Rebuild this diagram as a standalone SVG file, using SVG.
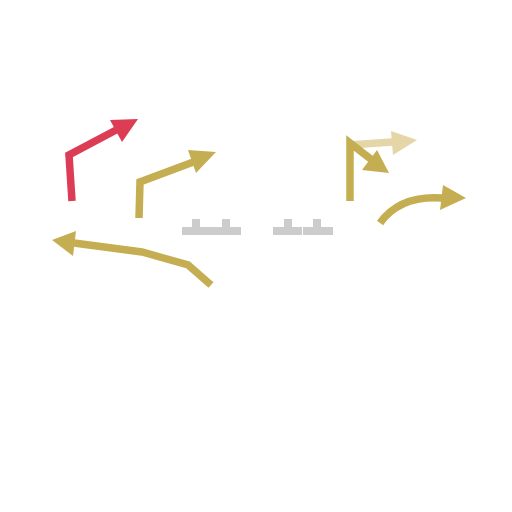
<svg xmlns="http://www.w3.org/2000/svg" width="512" height="512" viewBox="0 0 512 512">
<style>
.ln{fill:none;stroke-width:7.5;stroke-linejoin:miter}
.red{stroke:#dc3d55}
.redf{fill:#dc3d55}
.gold{stroke:#c5ae52}
.goldf{fill:#c5ae52}
.lt{stroke:#e4d6a6}
.ltf{fill:#e4d6a6}
.gr{fill:#cccccc}
</style>
<g id="blocks">
<g id="block1"><rect class="gr" x="182" y="227" width="29" height="8"/><rect class="gr" x="192" y="219" width="8" height="8"/></g>
<g id="block2"><rect class="gr" x="211" y="227" width="30" height="8"/><rect class="gr" x="222" y="219" width="8" height="8"/></g>
<g id="block3"><rect class="gr" x="273" y="227" width="29" height="8"/><rect class="gr" x="284" y="219" width="8" height="8"/></g>
<g id="block4"><rect class="gr" x="303" y="227" width="30" height="8"/><rect class="gr" x="313" y="219" width="8" height="8"/></g>
</g>
<g id="connectors">
<polyline class="ln red" points="72,201 69,155 118,129"/>
<polygon class="redf" points="138,119 110,120 122,142"/>
<polyline class="ln gold" points="139,218 140,182 196,161"/>
<polygon class="goldf" points="216,152 188,150 196,173"/>
<polyline class="ln gold" points="211,285 188,265 142,252 74,243"/>
<polygon class="goldf" points="52,240 76,231 73,256"/>
<polyline class="ln lt" points="349,145 393,142"/>
<polygon class="ltf" points="417,140 391,131 393,155"/>
<polyline class="ln gold" points="350,201 350,143 372,160"/>
<polygon class="goldf" points="389,173 362,170 377,150"/>
<path class="ln gold" d="M380,223 Q400,195 442,198"/>
<polygon class="goldf" points="466,198 443,185 440,210"/>
</g>
</svg>
